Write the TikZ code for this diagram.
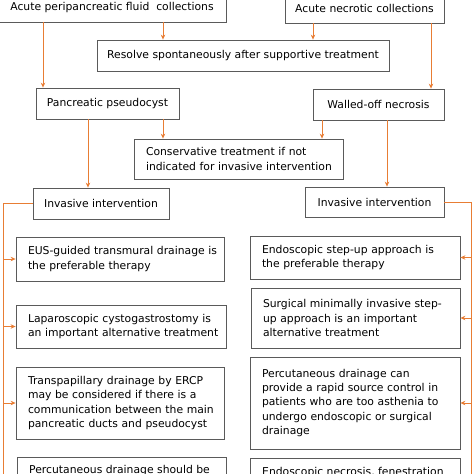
\documentclass[tikz,border=0pt]{standalone}
\usepackage{fontspec}
\setmainfont{DejaVu Sans}
\usetikzlibrary{arrows.meta}
\definecolor{arrc}{RGB}{232,125,52}
\definecolor{boxc}{RGB}{90,90,90}
\newcommand\Lb[1]{\mbox{#1}}
\begin{document}
\begin{tikzpicture}[x=1pt,y=-1pt,
  box/.style={draw=boxc,line width=0.8pt,rectangle,inner sep=0pt,align=left,font=\fontsize{10.8}{14.3}\selectfont},
  tbox/.style={box,minimum width=#1,text width=#1-24pt,execute at begin node={\hfuzz=200pt\hbadness=10000}},
  txt/.style={inner sep=0pt,font=\fontsize{10.8}{14.3}\selectfont,align=left},
  arr/.style={draw=arrc,line width=0.8pt,-{Stealth[length=5pt,width=4.5pt]}},
  ln/.style={draw=arrc,line width=0.8pt}]
\useasboundingbox (0,0) rectangle (474,474);
\clip (0,0) rectangle (474,474);
% top row
\node[box,minimum width=228,minimum height=28] (tl) at (112,8) {Acute peripancreatic fluid~ collections};
\node[box,minimum width=159,minimum height=29] (tr) at (364.5,8.5) {Acute necrotic collections};
\node[box,minimum width=292,minimum height=31] (res) at (243,55.5) {Resolve spontaneously after supportive treatment};
\node[box,minimum width=143,minimum height=31] (pp) at (107.5,103.5) {Pancreatic pseudocyst};
\node[box,minimum width=131,minimum height=31] (wo) at (378.5,104.5) {Walled-off necrosis};
\node[tbox=209,minimum height=40] (cons) at (238.5,159) {\Lb{Conservative treatment if not}\\\Lb{indicated for invasive intervention}};
\node[box,minimum width=136,minimum height=31] (inv1) at (101,203.5) {Invasive intervention};
\node[box,minimum width=139,minimum height=30] (inv2) at (374.5,202) {Invasive intervention};
% left column
\node[tbox=208,minimum height=44] (L1) at (120,259) {\Lb{EUS-guided transmural drainage is}\\\Lb{the preferable therapy}};
\node[tbox=210,minimum height=43] (L2) at (121,326.5) {\Lb{Laparoscopic cystogastrostomy is}\\\Lb{an important alternative treatment}};
\node[tbox=208,minimum height=72] (L3) at (120,403) {\Lb{Transpapillary drainage by ERCP}\\\Lb{may be considered if there is a}\\\Lb{communication between the main}\\\Lb{pancreatic ducts and pseudocyst}};
\node[box,minimum width=209,minimum height=60,anchor=north west] (L4) at (17,457) {};
\node[txt,anchor=north west] (L4t) at (29,465) {Percutaneous drainage should be};
% right column
\node[tbox=210,minimum height=43] (R1) at (355,257.5) {\Lb{Endoscopic step-up approach is}\\\Lb{the preferable therapy}};
\node[tbox=209,minimum height=60] (R2) at (355.5,318) {\Lb{Surgical minimally invasive step-}\\\Lb{up approach is an important}\\\Lb{alternative treatment}};
\node[tbox=210,minimum height=92] (R3) at (355,403) {\Lb{Percutaneous drainage can}\\\Lb{provide a rapid source control in}\\\Lb{patients who are too asthenia to}\\\Lb{undergo endoscopic or surgical}\\\Lb{drainage}};
\node[box,minimum width=210,minimum height=60,anchor=north west] (R4) at (250,458) {};
\node[txt,anchor=north west] (R4t) at (262,467) {Endoscopic necrosis, fenestration};
% helper x coordinates
\coordinate (x43) at (43,0);
\coordinate (x163) at (163,0);
\coordinate (x313) at (313,0);
\coordinate (x431) at (431,0);
\coordinate (x88) at (88,0);
\coordinate (x322) at (322,0);
\coordinate (x387) at (387,0);
\coordinate (tL) at (3,0);
\coordinate (tR) at (471,0);
\coordinate (bL) at (3,480);
\coordinate (bR) at (471,480);
% arrows top
\draw[arr] (tl.south -| x43) -- (pp.north -| x43);
\draw[arr] (tl.south -| x163) -- (res.north -| x163);
\draw[arr] (tr.south -| x313) -- (res.north -| x313);
\draw[arr] (tr.south -| x431) -- (wo.north -| x431);
\draw[arr] (pp.south -| x88) -- (inv1.north -| x88);
\draw[arr] (pp.south -| x163) -- (cons.north -| x163);
\draw[arr] (wo.south -| x322) -- (cons.north -| x322);
\draw[arr] (wo.south -| x387) -- (inv2.north -| x387);
% trunks
\draw[ln] (inv1.west) -| (bL);
\draw[ln] (inv2.east) -| (bR);
\draw[arr] (L1.west -| tL) -- (L1.west);
\draw[arr] (L2.west -| tL) -- (L2.west);
\draw[arr] (L3.west -| tL) -- (L3.west);
\draw[arr] (R1.east -| tR) -- (R1.east);
\draw[arr] (R2.east -| tR) -- (R2.east);
\draw[arr] (R3.east -| tR) -- (R3.east);
\end{tikzpicture}
\end{document}
